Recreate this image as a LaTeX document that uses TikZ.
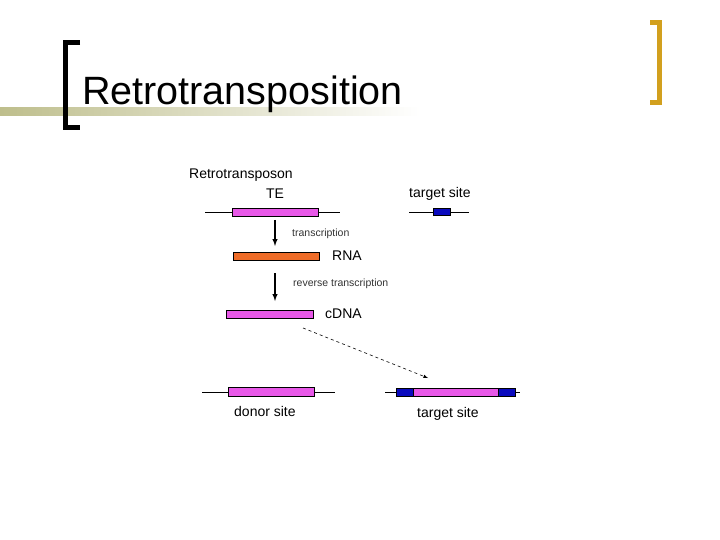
\documentclass[tikz,border=0pt]{standalone}
\usepackage{fontspec}
\setmainfont{Liberation Sans}
\definecolor{tepink}{RGB}{232,88,232}
\definecolor{rnaor}{RGB}{238,108,40}
\definecolor{tsblue}{RGB}{10,10,190}
\definecolor{olive}{RGB}{190,190,140}
\definecolor{gold}{RGB}{210,160,30}
\begin{document}
\begin{tikzpicture}[x=1pt,y=-1pt,
  seg/.style={draw=black,line width=0.8pt},
  lbl/.style={inner sep=0pt,font=\fontsize{14}{14}\selectfont},
  sml/.style={inner sep=0pt,font=\fontsize{10.5}{10.5}\selectfont,text=black!80},
  arr/.style={-latex,line width=1.4pt}]
\useasboundingbox (0,0) rectangle (720,540);
\shade[left color=olive,right color=white] (0,108) rectangle (420,116);
\draw[line width=5pt] (80,42.5) -- (65.5,42.5) -- (65.5,127.5) -- (80,127.5);
\draw[gold,line width=5pt] (650,22.5) -- (659.5,22.5) -- (659.5,102.5) -- (650,102.5);
\node[anchor=base west,inner sep=0pt,font=\fontsize{39.5}{39.5}\selectfont] (title) at (82,105) {Retrotransposition};
% labels
\node[lbl,anchor=west] (retro) at (189,175) {Retrotransposon};
\node[lbl] (te) at (275,194) {TE};
\node[lbl,anchor=west] (ts1) at (409,194) {target site};
% TE row
\coordinate (l1a) at (205,212); \coordinate (l1b) at (340,212);
\draw[seg] (l1a) -- (l1b);
\node[draw,fill=tepink,inner sep=0pt,minimum width=86pt,minimum height=8pt] (tebox) at (275,212) {};
\coordinate (t1a) at (409,212); \coordinate (t1b) at (469,212);
\draw[seg] (t1a) -- (t1b);
\node[draw,fill=tsblue,inner sep=0pt,minimum width=17pt,minimum height=7pt] (ts1box) at (441.5,212) {};
% RNA
\node[draw,fill=rnaor,inner sep=0pt,minimum width=86pt,minimum height=8pt] (rna) at (276,256) {};
\node[lbl,anchor=west] (rnal) at (332,256) {RNA};
\coordinate (a1s) at (275,220); \coordinate (a1e) at (275,246);
\draw[arr] (a1s) -- (a1e);
\node[sml,anchor=west] (tr) at (292,234) {transcription};
% cDNA
\node[draw,fill=tepink,inner sep=0pt,minimum width=87pt,minimum height=8pt] (cdna) at (269.5,314) {};
\node[lbl,anchor=west] (cdnal) at (325,314) {cDNA};
\coordinate (a2s) at (275,273); \coordinate (a2e) at (275,301);
\draw[arr] (a2s) -- (a2e);
\node[sml,anchor=west] (rtr) at (293,284) {reverse transcription};
% bottom rows
\draw[seg] (202,392) -- (335,392);
\node[draw,fill=tepink,inner sep=0pt,minimum width=86pt,minimum height=9pt] (donor) at (271,392) {};
\node[lbl,anchor=west] (donl) at (234,411) {donor site};
\draw[seg] (385,392) -- (520,392);
\node[draw,fill=tsblue,inner sep=0pt,minimum width=119pt,minimum height=8pt] (tgt) at (455.5,392) {};
\node[draw,fill=tepink,inner sep=0pt,minimum width=85pt,minimum height=8pt] (tgtin) at (455.5,392) {};
\node[lbl,anchor=west] (ts2) at (417,414) {target site};
\coordinate (dsrc) at (303,328);
\coordinate (dst) at (428,378);
\draw[-latex,dashed,line width=0.6pt] (dsrc) -- (dst);
\end{tikzpicture}
\end{document}
